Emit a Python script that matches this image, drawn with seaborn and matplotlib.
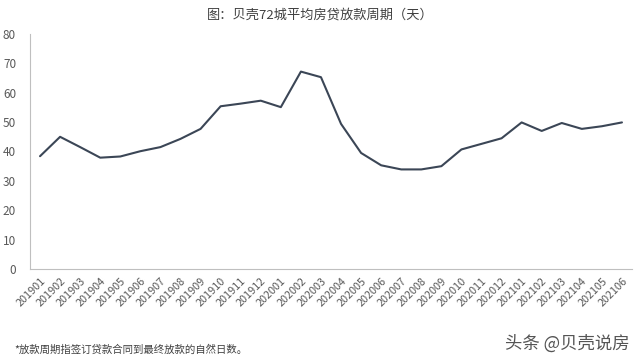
import matplotlib
matplotlib.use("Agg")
import matplotlib.pyplot as plt
import seaborn as sns
import pandas as pd
import numpy as np

periods = ["201901", "201902", "201903", "201904", "201905", "201906", "201907", "201908",
           "201909", "201910", "201911", "201912", "202001", "202002", "202003", "202004",
           "202005", "202006", "202007", "202008", "202009", "202010", "202011", "202012",
           "202101", "202102", "202103", "202104", "202105", "202106"]
days = [38.4, 45.0, 41.5, 37.9, 38.3, 40.1, 41.5, 44.3, 47.7, 55.4, 56.3, 57.3, 55.1, 67.2, 65.3,
        49.4, 39.5, 35.3, 33.9, 33.9, 35.0, 40.7, 42.6, 44.5, 49.9, 47.0, 49.7, 47.7, 48.6, 49.9]
yticks = [0, 10, 20, 30, 40, 50, 60, 70, 80]

title = "图：贝壳72城平均房贷放款周期（天）"
note = "*放款周期指签订贷款合同到最终放款的自然日数。"
mark = "头条 @贝壳说房"

sns.set_theme(style="white")
plt.rcParams['font.family'] = ['Noto Sans CJK SC', 'DejaVu Sans']

df = pd.DataFrame({"idx": np.arange(len(periods)), "days": days})

fig = plt.figure(figsize=(6.4, 3.6), dpi=100)
ax = fig.add_axes([30/640, 1-269/360, (632-30)/640, (269-34)/360])
sns.lineplot(data=df, x="idx", y="days", ax=ax, color="#3b4656", linewidth=1.5)

ax.set_xlim(-0.5, len(periods) - 0.5)
ax.set_ylim(0, 80)
ax.set_yticks(yticks)
ax.set_yticklabels([str(v) for v in yticks], fontsize=8.5, color="#595959")
ax.set_xticks(np.arange(len(periods)))
ax.set_xticklabels(periods, rotation=45, ha="right", rotation_mode="anchor", fontsize=7.8, color="#595959")
ax.set_xticks(np.arange(len(periods) + 1) - 0.5, minor=True)
ax.tick_params(axis="x", which="major", length=0, pad=5)
ax.tick_params(axis="x", which="minor", length=4, color="#bfbfbf", width=0.8, direction="out")
ax.tick_params(axis="y", length=4, color="#bfbfbf", width=0.8, direction="in", pad=10)
ax.set_xlabel("")
ax.set_ylabel("")
for s in ["top", "right"]:
    ax.spines[s].set_visible(False)
for s in ["left", "bottom"]:
    ax.spines[s].set_color("#bfbfbf")
    ax.spines[s].set_linewidth(0.8)

fig.text(0.5, 1 - 15/360, title, ha="center", va="center", fontsize=9.5, color="#404040")
fig.text(14/640, 1 - 350/360, note, ha="left", va="center", fontsize=7.5, color="#404040")
fig.text(630/640, 1 - 344/360, mark, ha="right", va="center", fontsize=12.5, color="#555555")

fig.savefig("out.png", dpi=100)
